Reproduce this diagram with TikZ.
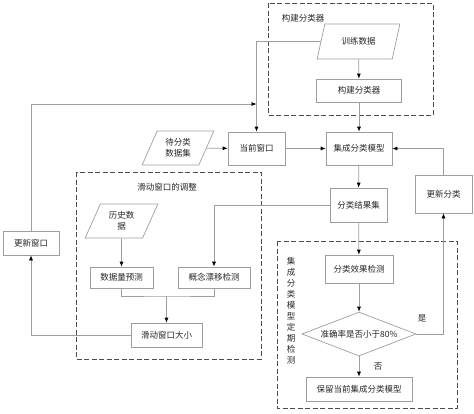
\documentclass[tikz,border=0pt]{standalone}
\usepackage{fontspec}
\setmainfont{Noto Sans CJK SC}
\usetikzlibrary{shapes.geometric,arrows.meta}
\begin{document}
\begin{tikzpicture}[x=1pt,y=-1pt,
  font=\fontsize{8.5}{11}\selectfont,
  box/.style={draw=black!38,line width=0.7pt,text=black!85,inner sep=0pt},
  datain/.style={box,trapezium,trapezium left angle=64,trapezium right angle=116,trapezium stretches=true,align=center},
  group/.style={draw=black!70,line width=0.9pt,dash pattern=on 5pt off 2.5pt},
  link/.style={draw=black!38,line width=0.7pt},
  arr/.style={link,-{Latex[length=5pt,width=4pt,color=black]}}]
\useasboundingbox (0,0) rectangle (474,413);
% groups
\draw [group] (268,3) rectangle (433,115);
\draw [group] (76,172) rectangle (261,359);
\draw [group] (277,241) rectangle (457,408);
\node [text=black!85] (lblbuild) at (303,18) {构建分类器};
\node [text=black!85] (lblslide) at (167,187) {滑动窗口的调整};
\node [text=black!85,text width=9pt,align=center,inner sep=0pt] (lblcheck) at (291,311) {集\\成\\分\\类\\模\\型\\定\\期\\检\\测};
% nodes
\node [datain,minimum width=83,minimum height=35] (train) at (358.5,41.5) {训练数据};
\node [box,minimum width=85,minimum height=23] (build) at (359,90.5) {构建分类器};
\node [box,minimum width=66,minimum height=33] (ens) at (359,148.5) {集成分类模型};
\node [box,minimum width=57,minimum height=33] (cur) at (256.5,148.5) {当前窗口};
\node [datain,minimum width=72,minimum height=34] (todo) at (178,148) {待分类\\数据集};
\node [box,minimum width=57,minimum height=34] (result) at (358.5,205) {分类结果集};
\node [box,minimum width=57,minimum height=38] (updcls) at (443.5,194) {更新分类};
\node [box,minimum width=68,minimum height=28] (effect) at (359,269) {分类效果检测};
\node [box,diamond,aspect=2.6,minimum width=114,minimum height=44] (acc) at (359,334) {准确率是否小于80\%};
\node [box,minimum width=106,minimum height=24] (keep) at (359,389) {保留当前集成分类模型};
\node [box,minimum width=56,minimum height=24] (updwin) at (31,243) {更新窗口};
\node [datain,minimum width=73,minimum height=34] (hist) at (121.5,221) {历史数\\据};
\node [box,minimum width=63,minimum height=21] (vol) at (121.5,277.5) {数据量预测};
\node [box,minimum width=72,minimum height=21] (drift) at (214,277.5) {概念漂移检测};
\node [box,minimum width=71,minimum height=24] (winsize) at (166.5,335) {滑动窗口大小};
\node [text=black!85] (yes) at (422,318) {是};
\node [text=black!85] (no) at (378,367) {否};
\coordinate (topjoin) at (256.5,104);
\coordinate (merge) at (166.5,296);
% connectors
\draw [arr] (train) -- (build);
\draw [arr] (build) -- (ens);
\draw [arr] (cur) -- (ens);
\draw [arr] (todo) -- (cur);
\draw [arr] (train.west) -| (cur.north);
\draw [arr] (updwin.north) |- (topjoin);
\draw [arr] (ens) -- (result);
\draw [arr] (result.west) -| (drift.north);
\draw [arr] (result) -- (effect);
\draw [arr] (effect) -- (acc);
\draw [arr] (acc.east) -| (updcls.south);
\draw [arr] (updcls.north) |- (ens.east);
\draw [arr] (acc) -- (keep);
\draw [arr] (hist) -- (vol);
\draw [link] (vol.south) |- (merge) -| (drift.south);
\draw [arr] (merge) -- (winsize);
\draw [arr] (winsize.west) -| (updwin.south);
\end{tikzpicture}
\end{document}
